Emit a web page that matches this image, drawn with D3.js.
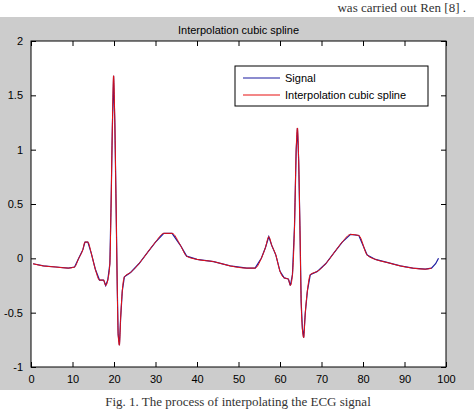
<!DOCTYPE html>
<html><head><meta charset="utf-8">
<script src="https://cdn.jsdelivr.net/npm/d3@7"></script>
<style>body{margin:0;background:#fff}svg{display:block}</style>
</head><body>
<svg id="c" width="474" height="412"></svg>
<script>
// ECG samples
const sigX = [0.5,3,6,9,10.5,11.5,12.5,13,13.7,14.5,15.5,16.5,17.5,18,18.5,19,19.3,19.6,19.9,20.2,20.5,20.8,21,21.3,21.6,22,22.5,24,26,28,30,32,34,36,37.5,40,44,48,52,54,55.5,56.5,57.3,58,59,60,61,62,62.5,63,63.5,63.9,64.2,64.5,64.8,65.1,65.4,65.7,66.1,66.6,67.3,69,71,73,75,77,79,81,83,86,89,92,95,96.5,97.5,98.2];
const sigY = [-0.05,-0.07,-0.08,-0.09,-0.08,0.0,0.08,0.15,0.15,0.05,-0.1,-0.2,-0.2,-0.25,-0.2,-0.05,0.5,1.2,1.68,1.25,0.5,-0.3,-0.7,-0.8,-0.55,-0.3,-0.17,-0.13,-0.05,0.05,0.15,0.23,0.23,0.12,0.02,-0.01,-0.03,-0.07,-0.09,-0.09,0.0,0.1,0.2,0.12,0.03,-0.12,-0.18,-0.19,-0.25,-0.15,0.3,1.0,1.2,0.9,0.3,-0.4,-0.65,-0.73,-0.5,-0.3,-0.15,-0.12,-0.05,0.05,0.15,0.22,0.21,0.03,-0.01,-0.04,-0.07,-0.09,-0.1,-0.09,-0.05,0.0];
const xTicks = [0,10,20,30,40,50,60,70,80,90,100];
const yTicks = [-1,-0.5,0,0.5,1,1.5,2];
const legendLabels = ["Signal", "Interpolation cubic spline"];
const legendColors = ["#1a1aa0", "#e81010"];

const svg = d3.select('#c');
const font = '"Liberation Sans", Arial, sans-serif';
const L = 31, R = 446, T = 41, B = 367;

// grey figure background
svg.append('rect').attr('x', 0).attr('y', 17).attr('width', 474).attr('height', 373).attr('fill', '#cccccc');
svg.append('text').attr('x', 466).attr('y', 12).attr('text-anchor', 'end')
  .attr('font-family', '"Liberation Serif", serif').attr('font-size', 13).attr('fill', '#333')
  .text('was carried out  Ren [8] .');
svg.append('text').attr('x', 238).attr('y', 406).attr('text-anchor', 'middle')
  .attr('font-family', '"Liberation Serif", serif').attr('font-size', 13).attr('fill', '#333')
  .text('Fig. 1. The process of interpolating the ECG signal');

const x = d3.scaleLinear().domain([0, 100]).range([L, R]);
const y = d3.scaleLinear().domain([-1, 2]).range([B, T]);

svg.append('rect').attr('x', L).attr('y', T).attr('width', R - L).attr('height', B - T)
  .attr('fill', '#fff').attr('stroke', '#000');

const g = svg.append('g').attr('font-family', font);
const ax = (a, tr) => g.append('g').attr('transform', tr).call(a)
  .call(s => s.select('.domain').remove())
  .call(s => s.selectAll('text').attr('font-family', font).attr('font-size', 11).attr('fill', '#000'));
ax(d3.axisBottom(x).tickValues(xTicks).tickSize(-5).tickPadding(8), `translate(0,${B})`);
ax(d3.axisTop(x).tickValues(xTicks).tickSize(-5).tickFormat(''), `translate(0,${T})`);
ax(d3.axisLeft(y).tickValues(yTicks).tickSize(-5).tickPadding(8).tickFormat(d => String(d)), `translate(${L},0)`);
ax(d3.axisRight(y).tickValues(yTicks).tickSize(-5).tickFormat(''), `translate(${R},0)`);

g.append('text').attr('x', (L + R) / 2).attr('y', 34).attr('text-anchor', 'middle')
  .attr('font-size', 11).text('Interpolation cubic spline');

const pts = sigX.map((v, i) => [v, sigY[i]]);
svg.append('path').attr('d', d3.line().x(d => x(d[0])).y(d => y(d[1]))(pts))
  .attr('fill', 'none').attr('stroke', legendColors[0]).attr('stroke-width', 1.2);
svg.append('path').attr('d', d3.line().x(d => x(d[0])).y(d => y(d[1])).curve(d3.curveMonotoneX)(pts.slice(0, -2)))
  .attr('fill', 'none').attr('stroke', legendColors[1]).attr('stroke-width', 1);

// legend
const lg = svg.append('g').attr('font-family', font);
lg.append('rect').attr('x', 235).attr('y', 66).attr('width', 193).attr('height', 40)
  .attr('fill', '#fff').attr('stroke', '#000');
legendLabels.forEach((t, i) => {
  const yy = 78 + i * 17;
  lg.append('line').attr('x1', 243).attr('x2', 280).attr('y1', yy).attr('y2', yy)
    .attr('stroke', legendColors[i]).attr('stroke-width', 1.2);
  lg.append('text').attr('x', 285).attr('y', yy + 4).attr('font-size', 11).text(t);
});
</script>
</body></html>
